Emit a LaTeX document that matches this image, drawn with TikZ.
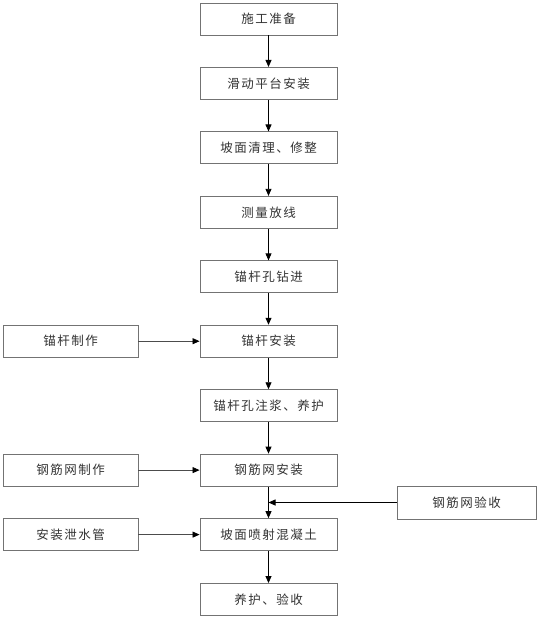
\documentclass[tikz,border=0pt]{standalone}
\usepackage{fontspec}
\newfontfamily\cjk[LetterSpace=12]{Noto Sans CJK SC}
\usetikzlibrary{arrows.meta}
\begin{document}
\begin{tikzpicture}[x=1pt,y=-1pt,
  box/.style={draw=black!55,line width=0.9pt,minimum width=137pt,minimum height=32pt,inner sep=0pt,font=\cjk\fontsize{12.5}{14}\selectfont,text=black!80},
  sbox/.style={box,minimum width=135pt},
  rbox/.style={box,minimum width=139pt,minimum height=33pt},
  arr/.style={draw=black,line width=0.8pt,-{Triangle[length=7pt,width=6pt]}},
  sarr/.style={draw=black!70,line width=0.8pt,-{Triangle[length=7pt,width=6pt,color=black]}}]
\useasboundingbox (0,0) rectangle (539,619);
\def\cx{268.5}
\node[box] (n1) at (\cx,19) {施工准备};
\node[box] (n2) at (\cx,83.4) {滑动平台安装};
\node[box] (n3) at (\cx,147.9) {坡面清理、修整};
\node[box] (n4) at (\cx,212.3) {测量放线};
\node[box] (n5) at (\cx,276.8) {锚杆孔钻进};
\node[box] (n6) at (\cx,341.2) {锚杆安装};
\node[box] (n7) at (\cx,405.7) {锚杆孔注浆、养护};
\node[box] (n8) at (\cx,470.1) {钢筋网安装};
\node[box] (n9) at (\cx,534.6) {坡面喷射混凝土};
\node[box] (n10) at (\cx,599.5) {养护、验收};
\node[sbox] (l1) at (70.5,341.2) {锚杆制作};
\node[sbox] (l2) at (70.5,470.1) {钢筋网制作};
\node[sbox] (l3) at (70.5,534.6) {安装泄水管};
\node[rbox] (r1) at (466.5,502.5) {钢筋网验收};
\coordinate (m) at (\cx,502.5);
\draw[arr] (n1) -- (n2);
\draw[arr] (n2) -- (n3);
\draw[arr] (n3) -- (n4);
\draw[arr] (n4) -- (n5);
\draw[arr] (n5) -- (n6);
\draw[arr] (n6) -- (n7);
\draw[arr] (n7) -- (n8);
\draw[arr] (n8) -- (n9);
\draw[arr] (n9) -- (n10);
\draw[sarr] (l1) -- (n6);
\draw[sarr] (l2) -- (n8);
\draw[sarr] (l3) -- (n9);
\draw[arr] (r1) -- (m);
\end{tikzpicture}
\end{document}
